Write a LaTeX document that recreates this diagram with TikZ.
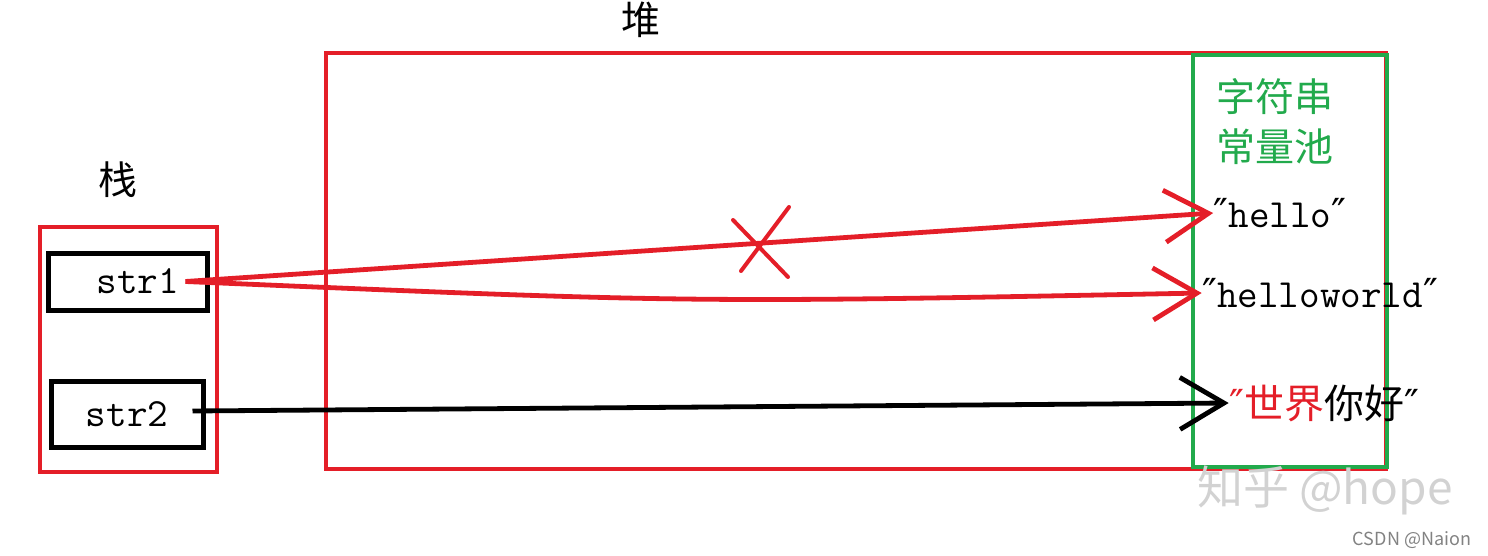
\documentclass[tikz,border=0pt]{standalone}
\usepackage{fontspec}
\newfontfamily\cjk{Noto Sans CJK SC}
\newfontfamily\qfont{DejaVu Sans}
\newcommand{\dq}{{\qfont ″}}
\usepackage{tikz}
\usetikzlibrary{arrows.meta,positioning}
\definecolor{pred}{RGB}{228,30,40}
\definecolor{pgreen}{RGB}{34,170,76}
\definecolor{wmgray}{RGB}{210,210,210}
\definecolor{csgray}{RGB}{130,130,130}
\tikzstyle{ptr} = [line width=2.4pt,-{Straight Barb[length=22pt,width=26pt,line width=2.4pt]}]
\tikzstyle{area} = [draw=pred, line width=2.2pt, inner sep=0pt]
\tikzstyle{var} = [draw=black, line width=2.5pt, font=\ttfamily\fontsize{20}{22}\selectfont]
\tikzstyle{strval} = [inner sep=0pt, font=\ttfamily\fontsize{20}{22}\selectfont]
\tikzstyle{title} = [font=\cjk\fontsize{19.5}{22}\selectfont]

\begin{document}
\begin{tikzpicture}[x=0.5pt,y=-0.5pt]
\useasboundingbox (0,0) rectangle (1488,556);

% Stack
\node[area, minimum width=88.5pt, minimum height=122.5pt] (stack) at (128.5,349.5) {};
\node[title] at (118,180) {栈};
\node[var, minimum width=79.5pt, minimum height=28.5pt] (str1) at (127.5,281.5) {\ str1};
\node[var, minimum width=76pt, minimum height=33pt] (str2) at (127,414) {str2};

% Heap and string pool
\node[area, minimum width=530pt, minimum height=208pt] (heap) at (856,261) {};
\node[title] at (641,20) {堆};
\node[draw=pgreen, line width=2.2pt, inner sep=0pt, minimum width=97pt, minimum height=206pt] (pool) at (1290,261) {};
\node[title, pgreen] at (1275,97) {字符串};
\node[title, pgreen] at (1275,147) {常量池};

% Strings
\node[strval] (hello) at (1280,213) {\dq hello\dq};
\node[strval] (helloworld) at (1320,293) {\dq helloworld\dq};
\node[strval] (nihao) at (1324,403) {\textcolor{pred}{\dq{\cjk\fontsize{20}{22}\selectfont 世界}}{\cjk\fontsize{20}{22}\selectfont 你好}\dq};

% References
\coordinate (s1) at ([xshift=-12pt]str1.east);
\coordinate (s2) at ([xshift=-6.5pt,yshift=1.5pt]str2.east);
\draw[ptr, pred] (s1) -- (hello.west);
\draw[ptr, pred] (s1) .. controls (690,303) .. (helloworld.west);
\draw[ptr, black] (s2) -- (nihao.west);

% Cross on the old reference
\draw[pred, line width=2pt, line cap=round] (733,220) -- (788,277) (789,207) -- (741,271);

% Watermarks
\node[font=\cjk\fontsize{23}{26}\selectfont, wmgray] at (1325,490) {知乎 @hope};
\node[font=\cjk\fontsize{9}{10}\selectfont, csgray] at (1412,540) {CSDN @Naion};
\end{tikzpicture}
\end{document}
